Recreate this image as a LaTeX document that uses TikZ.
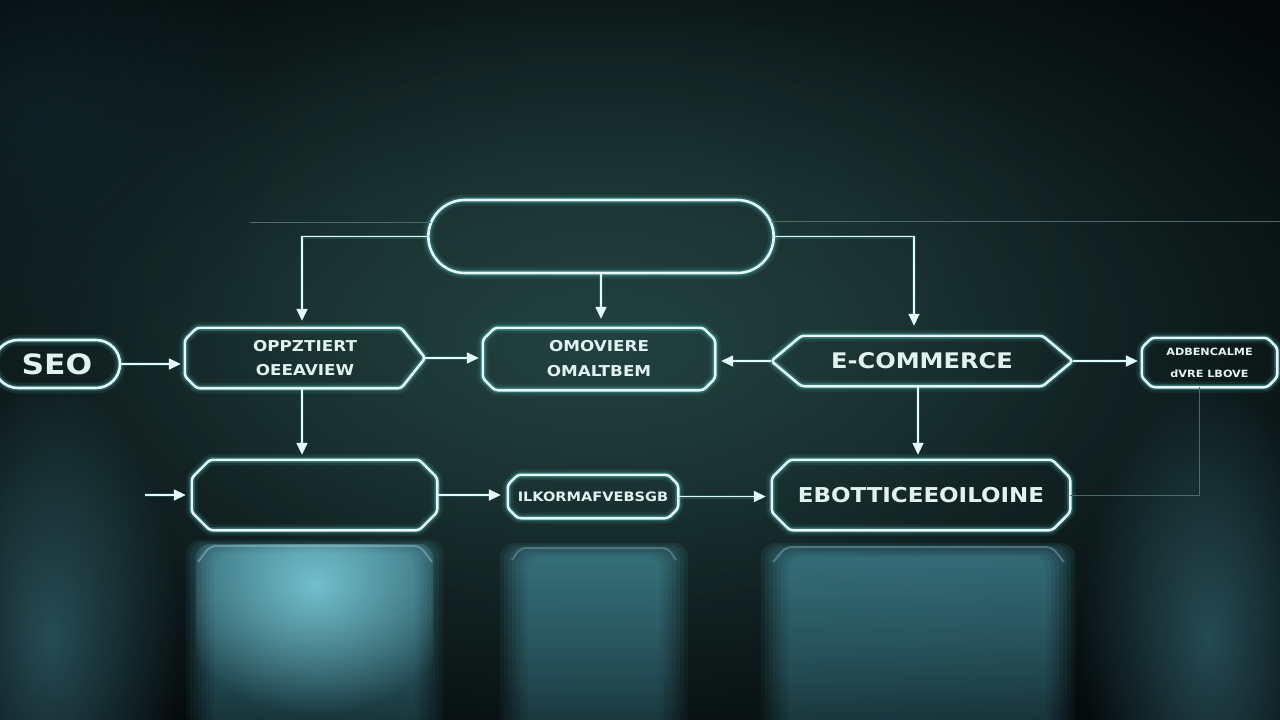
\documentclass[tikz,border=0pt]{standalone}
\usepackage{fontspec}
\setmainfont{DejaVu Sans}
\newfontfamily\widefont[FakeStretch=1.12]{DejaVu Sans}
\usetikzlibrary{arrows.meta,calc,shapes.misc,fadings}
\definecolor{bgdark}{HTML}{05090B}
\definecolor{bgmid}{HTML}{22423F}
\definecolor{bgtl}{HTML}{10262A}
\definecolor{linecol}{HTML}{E4FAF8}
\definecolor{glowcol}{HTML}{57CDD2}
\definecolor{faintcol}{HTML}{4C6A6C}
\definecolor{reflcol}{HTML}{4A98AA}
\definecolor{reflbright}{HTML}{8EE6F5}
\definecolor{txtcol}{HTML}{E2F2F0}
\tikzfading[name=softglow, inner color=transparent!0, outer color=transparent!100]
\tikzfading[name=fadedown, top color=transparent!5, bottom color=transparent!80]
\tikzset{
  shapeline/.style={draw=linecol, line width=2.6pt, line join=round,
    preaction={draw=glowcol, line width=11pt, opacity=0.10},
    preaction={draw=glowcol, line width=6pt, opacity=0.25}},
  conn/.style={draw=linecol, line width=1.5pt, -{Triangle[length=12pt,width=11pt]},
    preaction={draw=glowcol, line width=4pt, opacity=0.18}},
  faint/.style={draw=faintcol, line width=1pt},
  lbl/.style={inner sep=0pt, text=txtcol, align=center, font=\widefont\bfseries\fontsize{15}{24}\selectfont},
  refl/.style={fill=reflcol, path fading=fadedown, opacity=0.13}
}
\newcommand\octbox[2]{%
  \draw[shapeline, rounded corners=3pt] ([xshift=#2pt]#1.north west) -- ([xshift=-#2pt]#1.north east) -- ([yshift=-#2pt]#1.north east) -- ([yshift=#2pt]#1.south east) -- ([xshift=-#2pt]#1.south east) -- ([xshift=#2pt]#1.south west) -- ([yshift=#2pt]#1.south west) -- ([yshift=-#2pt]#1.north west) -- cycle;}
\newcommand\reflbox[3]{%
  \foreach \i in {0,...,7}{\fill[refl, rounded corners=14pt] (#1-6+\i*4, #3-2+\i*2) rectangle (#2+6-\i*4, 760);}}
\begin{document}
\begin{tikzpicture}[x=1pt,y=-1pt]
\useasboundingbox (0,0) rectangle (1280,720);
\begin{scope}
\clip (0,0) rectangle (1280,720);
\fill[bgdark] (0,0) rectangle (1280,720);
\fill[bgmid, path fading=softglow] (600,340) ellipse (900 and 460);
\fill[bgmid, path fading=softglow, opacity=0.5] (600,300) ellipse (520 and 320);
\fill[bgtl, path fading=softglow, opacity=0.7] (40,120) ellipse (240 and 220);
% reflections
\reflbox{192}{437}{542}
\reflbox{506}{682}{545}
\reflbox{767}{1069}{545}
\begin{scope}
\clip[rounded corners=14pt] (196,544) rectangle (433,720);
\fill[reflbright, path fading=softglow, opacity=0.7] (315,585) ellipse (150 and 130);
\end{scope}
\fill[reflcol, path fading=softglow, opacity=0.45] (50,640) ellipse (130 and 260);
\fill[reflcol, path fading=softglow, opacity=0.45] (1210,640) ellipse (130 and 260);
\draw[reflcol!60!white, line width=2pt, opacity=0.5, rounded corners=6pt] (198,562) -- (210,546) -- (420,546) -- (432,562);
\draw[reflcol!60!white, line width=2pt, opacity=0.35, rounded corners=6pt] (512,560) -- (520,548) -- (668,548) -- (676,560);
\draw[reflcol!60!white, line width=2pt, opacity=0.4, rounded corners=6pt] (773,562) -- (786,547) -- (1052,547) -- (1064,562);
\end{scope}

% nodes
\node[rounded rectangle, minimum width=352pt, minimum height=73pt, shapeline] (top) at (601,236.5) {};
\node[rounded rectangle, minimum width=126pt, minimum height=48pt, shapeline, lbl, font=\widefont\bfseries\fontsize{28}{30}\selectfont] (seo) at (57,364) {SEO};
\node[lbl, minimum width=240pt, minimum height=60pt] (b1) at (305,358) {OPPZTIERT\\OEEAVIEW};
\node[lbl, minimum width=232pt, minimum height=62pt, font=\widefont\bfseries\fontsize{15}{25}\selectfont] (b2) at (599,359) {OMOVIERE\\OMALTBEM};
\node[lbl, minimum width=301pt, minimum height=50pt, font=\widefont\bfseries\fontsize{21.5}{24}\selectfont] (ec) at (922,361) {E-COMMERCE};
\node[lbl, minimum width=135pt, minimum height=49pt, font=\widefont\bfseries\fontsize{10}{22}\selectfont] (fr) at (1209.5,362.5) {ADBENCALME\\dVRE LBOVE};
\node[lbl, minimum width=245pt, minimum height=70pt] (b3) at (314.5,495) {};
\node[lbl, minimum width=170pt, minimum height=43pt, font=\widefont\bfseries\fontsize{13}{16}\selectfont] (b4) at (593,496.5) {ILKORMAFVEBSGB};
\node[lbl, minimum width=298pt, minimum height=70pt, font=\widefont\bfseries\fontsize{20.5}{22}\selectfont] (b5) at (921,495) {EBOTTICEEOILOINE};

% outlines
\draw[shapeline, rounded corners=3pt] ([xshift=12pt]b1.north west) -- ([xshift=-24pt]b1.north east) -- (b1.east) -- ([xshift=-24pt]b1.south east) -- ([xshift=12pt]b1.south west) -- ([yshift=12pt]b1.south west) -- ([yshift=-12pt]b1.north west) -- cycle;
\octbox{b2}{12}
\draw[shapeline, rounded corners=3pt] ([xshift=30pt]ec.north west) -- ([xshift=-30pt]ec.north east) -- (ec.east) -- ([xshift=-30pt]ec.south east) -- ([xshift=30pt]ec.south west) -- (ec.west) -- cycle;
\octbox{fr}{10}
\octbox{b3}{18}
\octbox{b4}{10}
\octbox{b5}{18}

% faint lines
\coordinate (fl) at (250,222);
\coordinate (frr) at (1280,221);
\coordinate (in3) at (145,495);
\draw[faint] (fl) -- ([xshift=4pt]fl -| top.west);
\draw[faint] ([xshift=-4pt]top.east |- frr) -- (frr);
\draw[faint] (b5.east) -| ([xshift=-10pt]fr.south);

% connectors
\draw[conn, shorten >=7pt] (top.west) -| ([xshift=-3pt]b1.north);
\draw[conn, shorten >=9pt] (top.south) -- (top.south |- b2.north);
\draw[conn, shorten >=10pt] (top.east) -| ([xshift=-8pt]ec.north);
\draw[conn, shorten >=4pt] (seo.east) -- (seo.east -| b1.west);
\draw[conn, shorten >=4pt] (b1.east) -- (b1.east -| b2.west);
\draw[conn, shorten >=6pt] (ec.west) -- (ec.west -| b2.east);
\draw[conn, shorten >=4pt] (ec.east) -- (ec.east -| fr.west);
\draw[conn, shorten >=5pt] ([xshift=-3pt]b1.south) -- ([xshift=-3pt]b1.south |- b3.north);
\draw[conn, shorten >=5pt] ([xshift=-4pt]ec.south) -- ([xshift=-4pt]ec.south |- b5.north);
\draw[conn, shorten >=6pt] (in3) -- (b3.west);
\draw[conn, shorten >=7pt] (b3.east) -- (b3.east -| b4.west);
\draw[conn, shorten >=6pt] (b4.east) -- (b4.east -| b5.west);
\end{tikzpicture}
\end{document}
